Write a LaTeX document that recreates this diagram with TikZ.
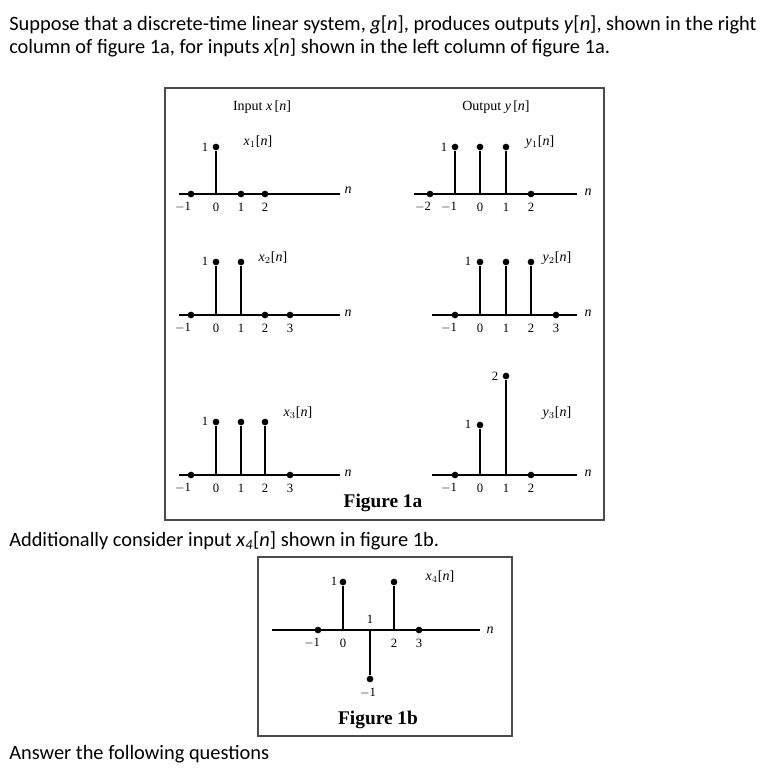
\documentclass[tikz,border=0pt]{standalone}
\usepackage{fontspec}
\setmainfont{Liberation Serif}
\newfontfamily\calfont{Carlito}
\begin{document}
\begin{tikzpicture}[x=0.75pt,y=-0.75pt,
  ax/.style={line width=0.9pt},
  stem/.style={line width=1.2pt},
  dot/.style={circle,fill=black,inner sep=0pt,minimum size=5pt},
  tk/.style={font=\fontsize{9.5}{10}\selectfont,inner sep=0pt},
  lbl/.style={font=\fontsize{10.5}{11}\selectfont,inner sep=0pt},
  body/.style={font=\calfont\fontsize{15.3}{16}\selectfont,anchor=west,inner sep=0pt},
  box/.style={draw=black!70,line width=0.8pt}]
\useasboundingbox (0,0) rectangle (761,780);
\node[body] (t1) at (9,25) {Suppose that a discrete-time linear system, \textit{g}[\textit{n}], produces outputs \textit{y}[\textit{n}], shown in the right};
\node[body] (t2) at (9,48) {column of figure 1a, for inputs \textit{x}[\textit{n}] shown in the left column of figure 1a.};
\node[body] (t3) at (9,541) {Additionally consider input \textit{x\textsubscript{4}}[\textit{n}] shown in figure 1b.};
\node[body] (t4) at (9,754) {Answer the following questions};
% boxes
\draw[box] (165,88) rectangle (604,520);
\draw[box] (258,557) rectangle (512,736);
\node[lbl] (hin) at (262,107) {Input \textit{x}\,[\textit{n}]};
\node[lbl] (hout) at (496,107) {Output \textit{y}\,[\textit{n}]};
\node[font=\bfseries\fontsize{14.5}{15}\selectfont] (f1a) at (383,503) {Figure 1a};
\node[font=\bfseries\fontsize{14.5}{15}\selectfont] (f1b) at (378,720) {Figure 1b};
% ---------- x1
\draw[ax] (179,194) -- (340,194); \node[lbl] (n1) at (348,190) {\textit{n}};
\node[dot] (a1) at (191,194) {}; \node[dot] (a2) at (216,147) {}; \node[dot] (a3) at (241,194) {}; \node[dot] (a4) at (265,194) {};
\draw[stem] (216,194) -- (a2);
\node[tk] at (183,207) {$-$1}; \node[tk] at (216,207) {0}; \node[tk] at (241,207) {1}; \node[tk] at (265,207) {2};
\node[tk] at (205,147) {1}; \node[lbl] at (258,142) {\textit{x}$_1$[\textit{n}]};
% ---------- y1
\draw[ax] (414,194) -- (577,194); \node[lbl] at (588,192) {\textit{n}};
\node[dot] (b1) at (430,194) {}; \node[dot] (b2) at (455,147) {}; \node[dot] (b3) at (480,147) {}; \node[dot] (b4) at (506,147) {}; \node[dot] (b5) at (531,194) {};
\draw[stem] (455,194) -- (b2); \draw[stem] (480,194) -- (b3); \draw[stem] (506,194) -- (b4);
\node[tk] at (423,207) {$-$2}; \node[tk] at (449,207) {$-$1}; \node[tk] at (480,207) {0}; \node[tk] at (506,207) {1}; \node[tk] at (531,207) {2};
\node[tk] at (444,147) {1}; \node[lbl] at (540,142) {\textit{y}$_1$[\textit{n}]};
% ---------- x2
\draw[ax] (179,315) -- (340,315); \node[lbl] at (348,313) {\textit{n}};
\node[dot] (c1) at (191,315) {}; \node[dot] (c2) at (216,262) {}; \node[dot] (c3) at (241,262) {}; \node[dot] (c4) at (265,315) {}; \node[dot] (c5) at (290,315) {};
\draw[stem] (216,315) -- (c2); \draw[stem] (241,315) -- (c3);
\node[tk] at (183,328) {$-$1}; \node[tk] at (216,328) {0}; \node[tk] at (241,328) {1}; \node[tk] at (265,328) {2}; \node[tk] at (290,328) {3};
\node[tk] at (205,261) {1}; \node[lbl] at (273,258) {\textit{x}$_2$[\textit{n}]};
% ---------- y2
\draw[ax] (432,315) -- (577,315); \node[lbl] at (588,313) {\textit{n}};
\node[dot] (d1) at (455,315) {}; \node[dot] (d2) at (480,262) {}; \node[dot] (d3) at (506,262) {}; \node[dot] (d4) at (531,262) {}; \node[dot] (d5) at (556,315) {};
\draw[stem] (480,315) -- (d2); \draw[stem] (506,315) -- (d3); \draw[stem] (531,315) -- (d4);
\node[tk] at (449,328) {$-$1}; \node[tk] at (480,328) {0}; \node[tk] at (506,328) {1}; \node[tk] at (531,328) {2}; \node[tk] at (556,328) {3};
\node[tk] at (468,261) {1}; \node[lbl] at (557,258) {\textit{y}$_2$[\textit{n}]};
% ---------- x3
\draw[ax] (179,475) -- (340,475); \node[lbl] at (348,473) {\textit{n}};
\node[dot] (e1) at (191,475) {}; \node[dot] (e2) at (216,422) {}; \node[dot] (e3) at (241,422) {}; \node[dot] (e4) at (265,422) {}; \node[dot] (e5) at (290,475) {};
\draw[stem] (216,475) -- (e2); \draw[stem] (241,475) -- (e3); \draw[stem] (265,475) -- (e4);
\node[tk] at (183,488) {$-$1}; \node[tk] at (216,488) {0}; \node[tk] at (241,488) {1}; \node[tk] at (265,488) {2}; \node[tk] at (290,488) {3};
\node[tk] at (205,421) {1}; \node[lbl] at (298,413) {\textit{x}$_3$[\textit{n}]};
% ---------- y3
\draw[ax] (432,475) -- (577,475); \node[lbl] at (588,473) {\textit{n}};
\node[dot] (g1) at (455,475) {}; \node[dot] (g2) at (480,425) {}; \node[dot] (g3) at (506,376) {}; \node[dot] (g4) at (531,475) {};
\draw[stem] (480,475) -- (g2); \draw[stem] (506,475) -- (g3);
\node[tk] at (449,488) {$-$1}; \node[tk] at (480,488) {0}; \node[tk] at (506,488) {1}; \node[tk] at (531,488) {2};
\node[tk] at (468,424) {1}; \node[tk] at (495,376) {2}; \node[lbl] at (557,413) {\textit{y}$_3$[\textit{n}]};
% ---------- x4
\draw[ax] (272,630) -- (480,630); \node[lbl] at (490,630) {\textit{n}};
\node[dot] (h1) at (318,630) {}; \node[dot] (h2) at (343,582) {}; \node[dot] (h3) at (370,679) {}; \node[dot] (h4) at (394,582) {}; \node[dot] (h5) at (419,630) {};
\draw[stem] (343,630) -- (h2); \draw[stem] (370,630) -- (h3); \draw[stem] (394,630) -- (h4);
\node[tk] at (312,643) {$-$1}; \node[tk] at (343,643) {0}; \node[tk] at (370,619) {1}; \node[tk] at (394,643) {2}; \node[tk] at (419,643) {3};
\node[tk] at (334,581) {1}; \node[tk] at (368,693) {$-$1}; \node[lbl] at (440,577) {\textit{x}$_4$[\textit{n}]};
\end{tikzpicture}
\end{document}
